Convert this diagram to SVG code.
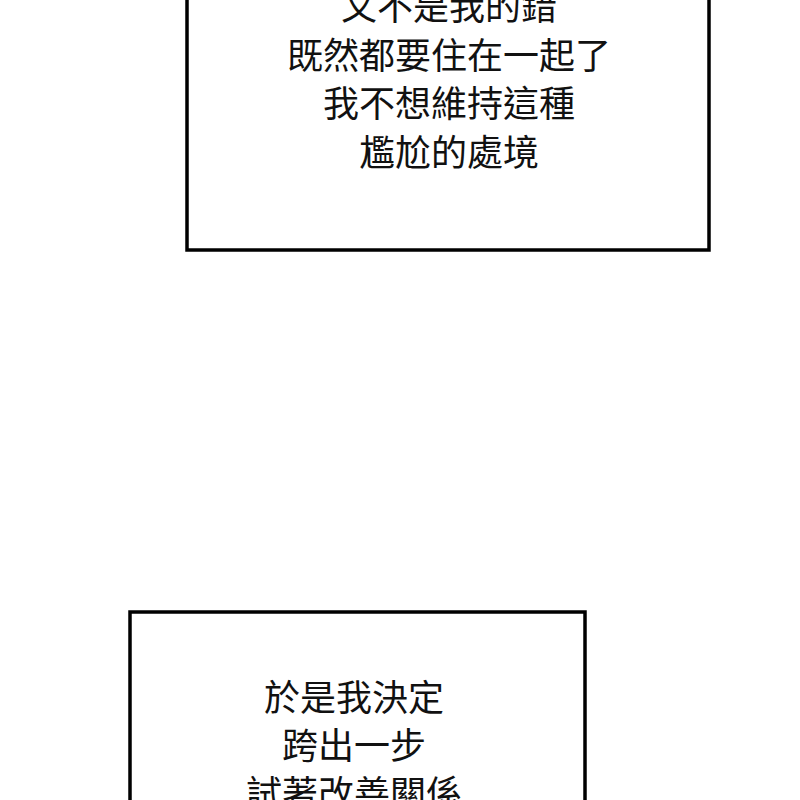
<svg xmlns="http://www.w3.org/2000/svg" width="800" height="800" viewBox="0 0 800 800">
<style>
.box{fill:#fff;stroke:#000;stroke-width:3.5}
.t{font-family:"Noto Sans CJK TC","Noto Sans CJK SC",sans-serif;font-size:36px;fill:#111;text-anchor:middle}
</style>
<rect width="800" height="800" fill="#fff"/>
<g id="box1">
<rect class="box" x="187" y="-10" width="522" height="260"/>
<text class="t" x="449" y="20">又不是我的錯</text>
<text class="t" x="449" y="69">既然都要住在一起了</text>
<text class="t" x="449" y="117">我不想維持這種</text>
<text class="t" x="449" y="166">尷尬的處境</text>
</g>
<g id="box2">
<rect class="box" x="130" y="612" width="455" height="200"/>
<text class="t" x="354" y="711">於是我決定</text>
<text class="t" x="354" y="759">跨出一步</text>
<text class="t" x="354" y="807">試著改善關係</text>
</g>
</svg>
